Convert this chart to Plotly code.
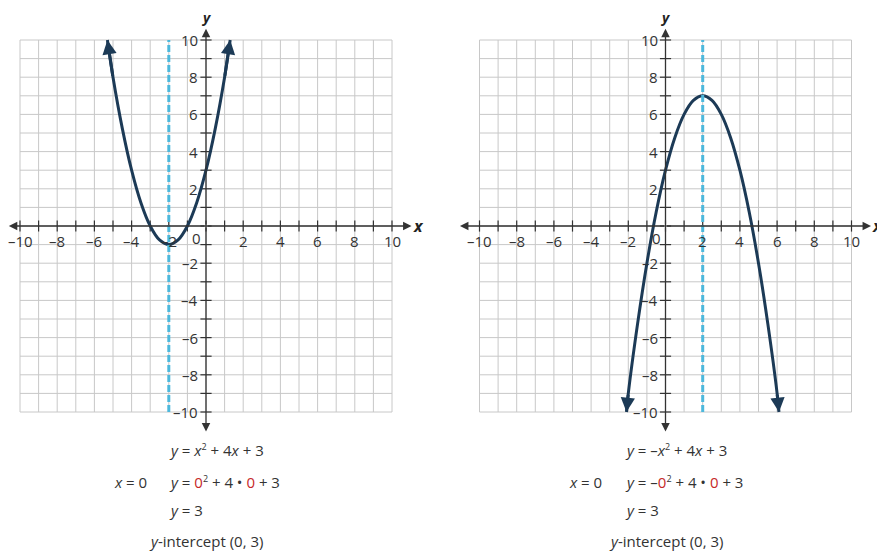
import plotly.graph_objects as go

# ── data ──────────────────────────────────────────────────────────────────────
# left panel: y = x² + 4x + 3 (opens up, vertex at (-2, -1))
up_x = [-5.3, -5, -4.5, -4, -3.5, -3, -2.5, -2, -1.5, -1, -0.5, 0, 0.5, 1, 1.3]
up_y = [10, 8, 5.25, 3, 1.25, 0, -0.75, -1, -0.75, 0, 1.25, 3, 5.25, 8, 10]
up_axis_x = [-2, -2]

# right panel: y = -x² + 4x + 3 (opens down, vertex at (2, 7))
down_x = [-2.1, -2, -1.5, -1, -0.5, 0, 0.5, 1, 1.5, 2, 2.5, 3, 3.5, 4, 4.5, 5, 5.5, 6, 6.1]
down_y = [-10, -9, -5.25, -2, 0.75, 3, 4.75, 6, 6.75, 7, 6.75, 6, 4.75, 3, 0.75, -2, -5.25, -9, -10]
down_axis_x = [2, 2]

sym_y = [-10, 10]
grid_vals = list(range(-10, 11))
tick_labels = [-10, -8, -6, -4, -2, 2, 4, 6, 8, 10]

SQ = "<sup><span style='font-size:9px'>2</span></sup>"
RED0 = "<span style='color:#c62828'>0</span>"
eq_left = [f"<i>y</i> = <i>x</i>{SQ} + 4<i>x</i> + 3",
           f"<i>y</i> = {RED0}{SQ} + 4 • {RED0} + 3",
           "<i>y</i> = 3"]
eq_right = [f"<i>y</i> = –<i>x</i>{SQ} + 4<i>x</i> + 3",
            f"<i>y</i> = –{RED0}{SQ} + 4 • {RED0} + 3",
            "<i>y</i> = 3"]
x_eq_text = "<i>x</i> = 0"
intercept_text = "<i>y</i>-intercept (0, 3)"

# ── styling ──────────────────────────────────────────────────────────────────
PAGE_PAD = 8                # browser body margin around the plot div
W, H = 885 - PAGE_PAD, 552 - PAGE_PAD
UNIT = 18.6                 # pixels per grid unit
ORIGIN_Y = 226              # page pixel of y = 0
SPLIT = 440                 # page pixel where the two panels meet
CURVE = "#1c3a56"
DASH = "#4db8dc"
GRID = "#c8c8c8"
AXIS = "#333333"
TEXT = "#333333"
FONT = "Open Sans"

panels = [
    dict(xr="x", yr="y", x0=PAGE_PAD, x1=SPLIT, ox=206, cx=up_x, cy=up_y, sx=up_axis_x,
         eqs=eq_left, eq_start=-2.1, xeq_end=-3.06, xmin=-10.6),
    dict(xr="x2", yr="y2", x0=SPLIT, x1=885, ox=665.5, cx=down_x, cy=down_y, sx=down_axis_x,
         eqs=eq_right, eq_start=-2.28, xeq_end=-3.31, xmin=-11.05),
]

fig = go.Figure()
shapes, annos = [], []
eq_rows = [-12.04, -13.76, -15.27]

for p in panels:
    xr, yr = p["xr"], p["yr"]
    small = dict(size=15, color=TEXT, family=FONT)

    # grid
    for v in grid_vals:
        shapes.append(dict(type="line", xref=xr, yref=yr, x0=v, x1=v, y0=-10, y1=10,
                           line=dict(color=GRID, width=1), layer="below"))
        shapes.append(dict(type="line", xref=xr, yref=yr, x0=-10, x1=10, y0=v, y1=v,
                           line=dict(color=GRID, width=1), layer="below"))

    # axes with arrowheads (drawn from origin outward)
    for hx, hy in [(11.05, 0), (p["xmin"], 0), (0, 10.6), (0, -11.05)]:
        annos.append(dict(xref=xr, yref=yr, axref=xr, ayref=yr, x=hx, y=hy, ax=0, ay=0,
                          showarrow=True, arrowhead=2, arrowsize=1.3, arrowwidth=1.3,
                          arrowcolor=AXIS, standoff=0, startstandoff=0, text=""))

    # small tick marks on the axes
    fig.add_trace(go.Scatter(x=grid_vals, y=[0] * len(grid_vals), xaxis=xr, yaxis=yr,
                             mode="markers", hoverinfo="skip",
                             marker=dict(symbol="line-ns", size=8,
                                         line=dict(color=AXIS, width=1.2))))
    fig.add_trace(go.Scatter(x=[0] * len(grid_vals), y=grid_vals, xaxis=xr, yaxis=yr,
                             mode="markers", hoverinfo="skip",
                             marker=dict(symbol="line-ew", size=8,
                                         line=dict(color=AXIS, width=1.2))))

    # tick labels
    for t in tick_labels:
        lab = str(t).replace("-", "–")
        annos.append(dict(xref=xr, yref=yr, x=t, y=0, text=lab, showarrow=False,
                          yshift=-15, font=small))
        annos.append(dict(xref=xr, yref=yr, x=0, y=t, text=lab, showarrow=False,
                          xanchor="right", xshift=-6, font=small))
    annos.append(dict(xref=xr, yref=yr, x=0, y=0, text="0", showarrow=False,
                      xanchor="right", xshift=-3, yshift=-12, font=small))

    # axis names
    annos.append(dict(xref=xr, yref=yr, x=11.4, y=0, text="<b><i>x</i></b>", showarrow=False,
                      font=dict(size=16, color="#222", family=FONT)))
    annos.append(dict(xref=xr, yref=yr, x=0, y=11.2, text="<b><i>y</i></b>", showarrow=False,
                      borderpad=0, font=dict(size=14, color="#222", family=FONT)))

    # parabola
    fig.add_trace(go.Scatter(x=p["cx"], y=p["cy"], xaxis=xr, yaxis=yr, mode="lines",
                             line=dict(color=CURVE, width=3, shape="spline"),
                             hoverinfo="skip"))
    for a, b in [(0, 1), (-1, -2)]:
        annos.append(dict(xref=xr, yref=yr, axref=xr, ayref=yr,
                          x=p["cx"][a], y=p["cy"][a], ax=p["cx"][b], ay=p["cy"][b],
                          showarrow=True, arrowhead=2, arrowsize=0.95, arrowwidth=3,
                          arrowcolor=CURVE, standoff=0, text=""))

    # axis of symmetry
    fig.add_trace(go.Scatter(x=p["sx"], y=sym_y, xaxis=xr, yaxis=yr, mode="lines",
                             line=dict(color=DASH, width=3, dash="7px,3px"),
                             hoverinfo="skip"))

    # worked equations below the grid
    for row, txt in zip(eq_rows, p["eqs"]):
        annos.append(dict(xref=xr, yref=yr, x=p["eq_start"], y=row, text=txt,
                          showarrow=False, xanchor="left", font=small))
    annos.append(dict(xref=xr, yref=yr, x=p["xeq_end"], y=eq_rows[1], text=x_eq_text,
                      showarrow=False, xanchor="right", font=small))
    annos.append(dict(xref=xr, yref=yr, x=0, y=-16.94, text=intercept_text,
                      showarrow=False, font=small))


# axis ranges chosen so one grid unit is UNIT pixels on the page
def xrange(p):
    return [(p["x0"] - p["ox"]) / UNIT, (p["x1"] - p["ox"]) / UNIT]


yrange = [(ORIGIN_Y - 552) / UNIT, (ORIGIN_Y - PAGE_PAD) / UNIT]
split_frac = (SPLIT - PAGE_PAD) / W
hidden = dict(visible=False, showgrid=False, zeroline=False, fixedrange=True)

fig.update_layout(
    width=W, height=H,
    margin=dict(l=0, r=0, t=0, b=0),
    paper_bgcolor="white", plot_bgcolor="white",
    showlegend=False, hovermode=False,
    font=dict(family=FONT, color=TEXT),
    xaxis=dict(domain=[0, split_frac], range=xrange(panels[0]), **hidden),
    yaxis=dict(domain=[0, 1], range=yrange, **hidden),
    xaxis2=dict(domain=[split_frac, 1], range=xrange(panels[1]), **hidden),
    yaxis2=dict(domain=[0, 1], range=yrange, anchor="x2", **hidden),
    shapes=shapes,
    annotations=annos,
)

fig.write_html("out.html")
